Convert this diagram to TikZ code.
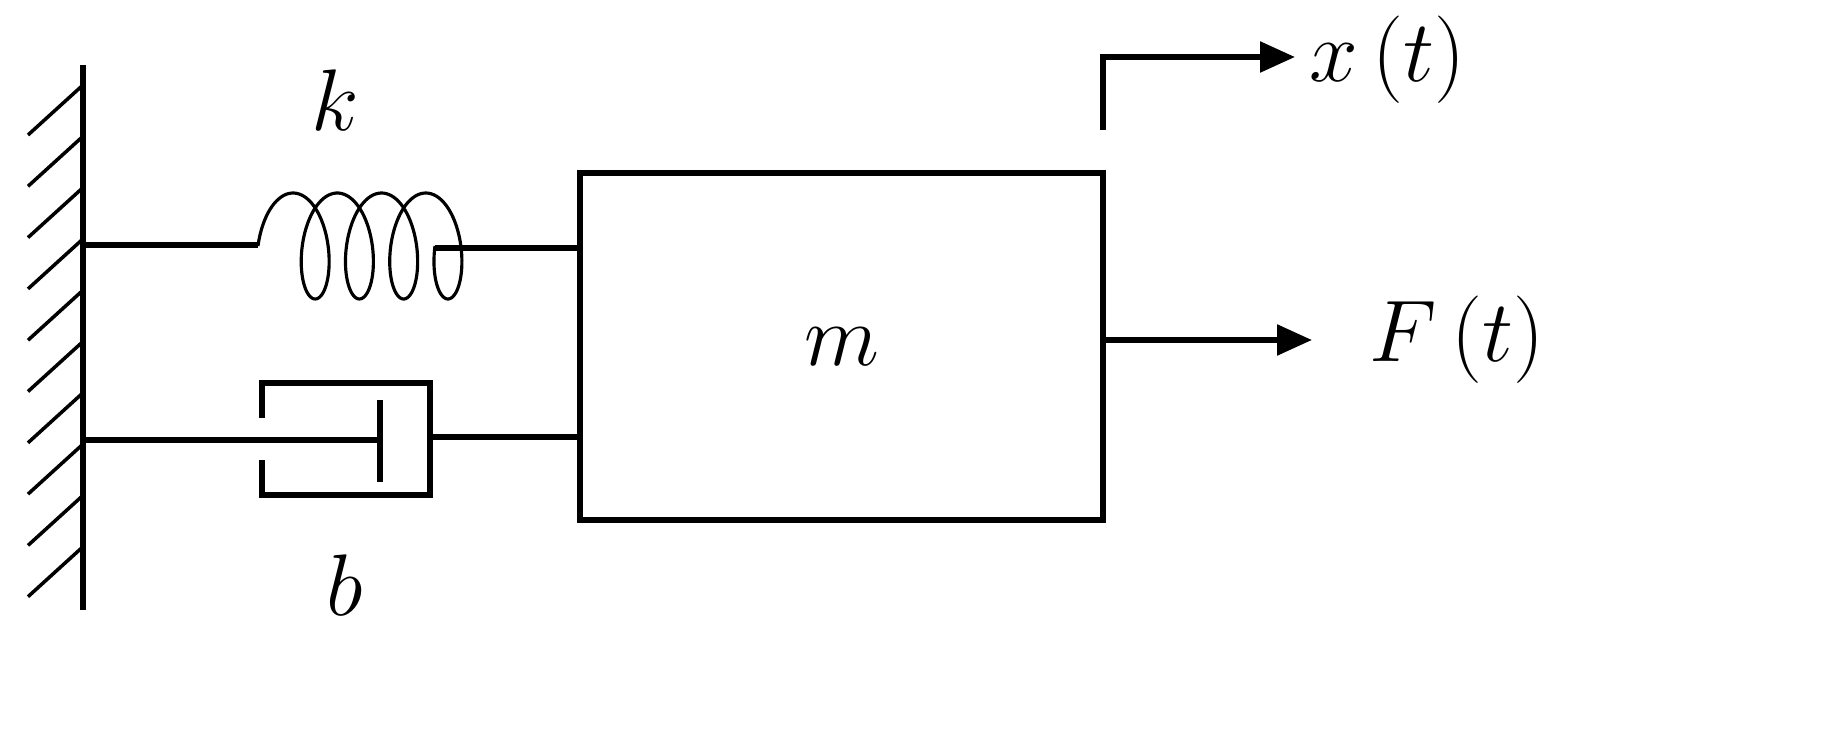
\documentclass[tikz,border=0pt]{standalone}
\usetikzlibrary{arrows.meta}
\begin{document}
\begin{tikzpicture}[line width=1.6pt,
  lbl/.style={font=\fontsize{28}{32}\selectfont},
  arr/.style={-{Triangle[length=0.35cm,width=0.3cm]}}]
% wall
\coordinate (wt) at (0.83,6.88);
\coordinate (wb) at (0.83,1.43);
\draw (wt) -- (wb);
\foreach \i in {0,...,9}{
  \draw[line width=1pt] (0.83,6.68-\i*0.513) -- ++(-0.55,-0.5);
}
% spring
\coordinate (s1) at (0.83,5.08);
\coordinate (s2) at (2.58,5.08);
\coordinate (s3) at (4.35,5.05);
\node[draw,minimum width=5.23cm,minimum height=3.47cm,inner sep=0] (m) at (8.415,4.065) {};
\node[lbl] at (m.center) {$m$};
\draw (s1) -- (s2);
\draw[line width=0.9pt,domain=180:1620,samples=300,smooth,variable=\t]
  plot ({2.58+0.24+0.24*cos(\t)+0.4425*(\t-180)/360},{5.07-0.53*sin(\t)});
\draw (s3) -- (s3 -| m.west);
% damper
\coordinate (d1) at (0.83,3.13);
\coordinate (pt) at (3.80,3.53);
\coordinate (pb) at (3.80,2.71);
\draw (d1) -- (d1 -| pt);
\draw (pt) -- (pb);
\draw (2.62,3.35) -- (2.62,3.70) -- (4.30,3.70) -- (4.30,2.58) -- (2.62,2.58) -- (2.62,2.93);
\coordinate (d2) at (4.30,3.16);
\draw (d2) -- (d2 -| m.west);
% labels k, b
\node[lbl] (k) at (3.35,6.53) {$k$};
\node[lbl] (b) at (3.45,1.68) {$b$};
% x(t)
\coordinate (x0) at (11.03,6.23);
\coordinate (x1) at (11.03,6.96);
\coordinate (x2) at (12.95,6.96);
\draw[arr] (x0) -- (x1) -- (x2);
\node[lbl,anchor=west] (xl) at (12.95,6.93) {$x\,(t)$};
% F(t)
\coordinate (f0) at (11.03,4.13);
\coordinate (f1) at (13.12,4.13);
\draw[arr] (f0) -- (f1);
\node[lbl,anchor=west] (fl) at (13.55,4.13) {$F\,(t)$};
\pgfresetboundingbox
\path[use as bounding box] (0,0) rectangle (18.33,7.53);
\end{tikzpicture}
\end{document}
